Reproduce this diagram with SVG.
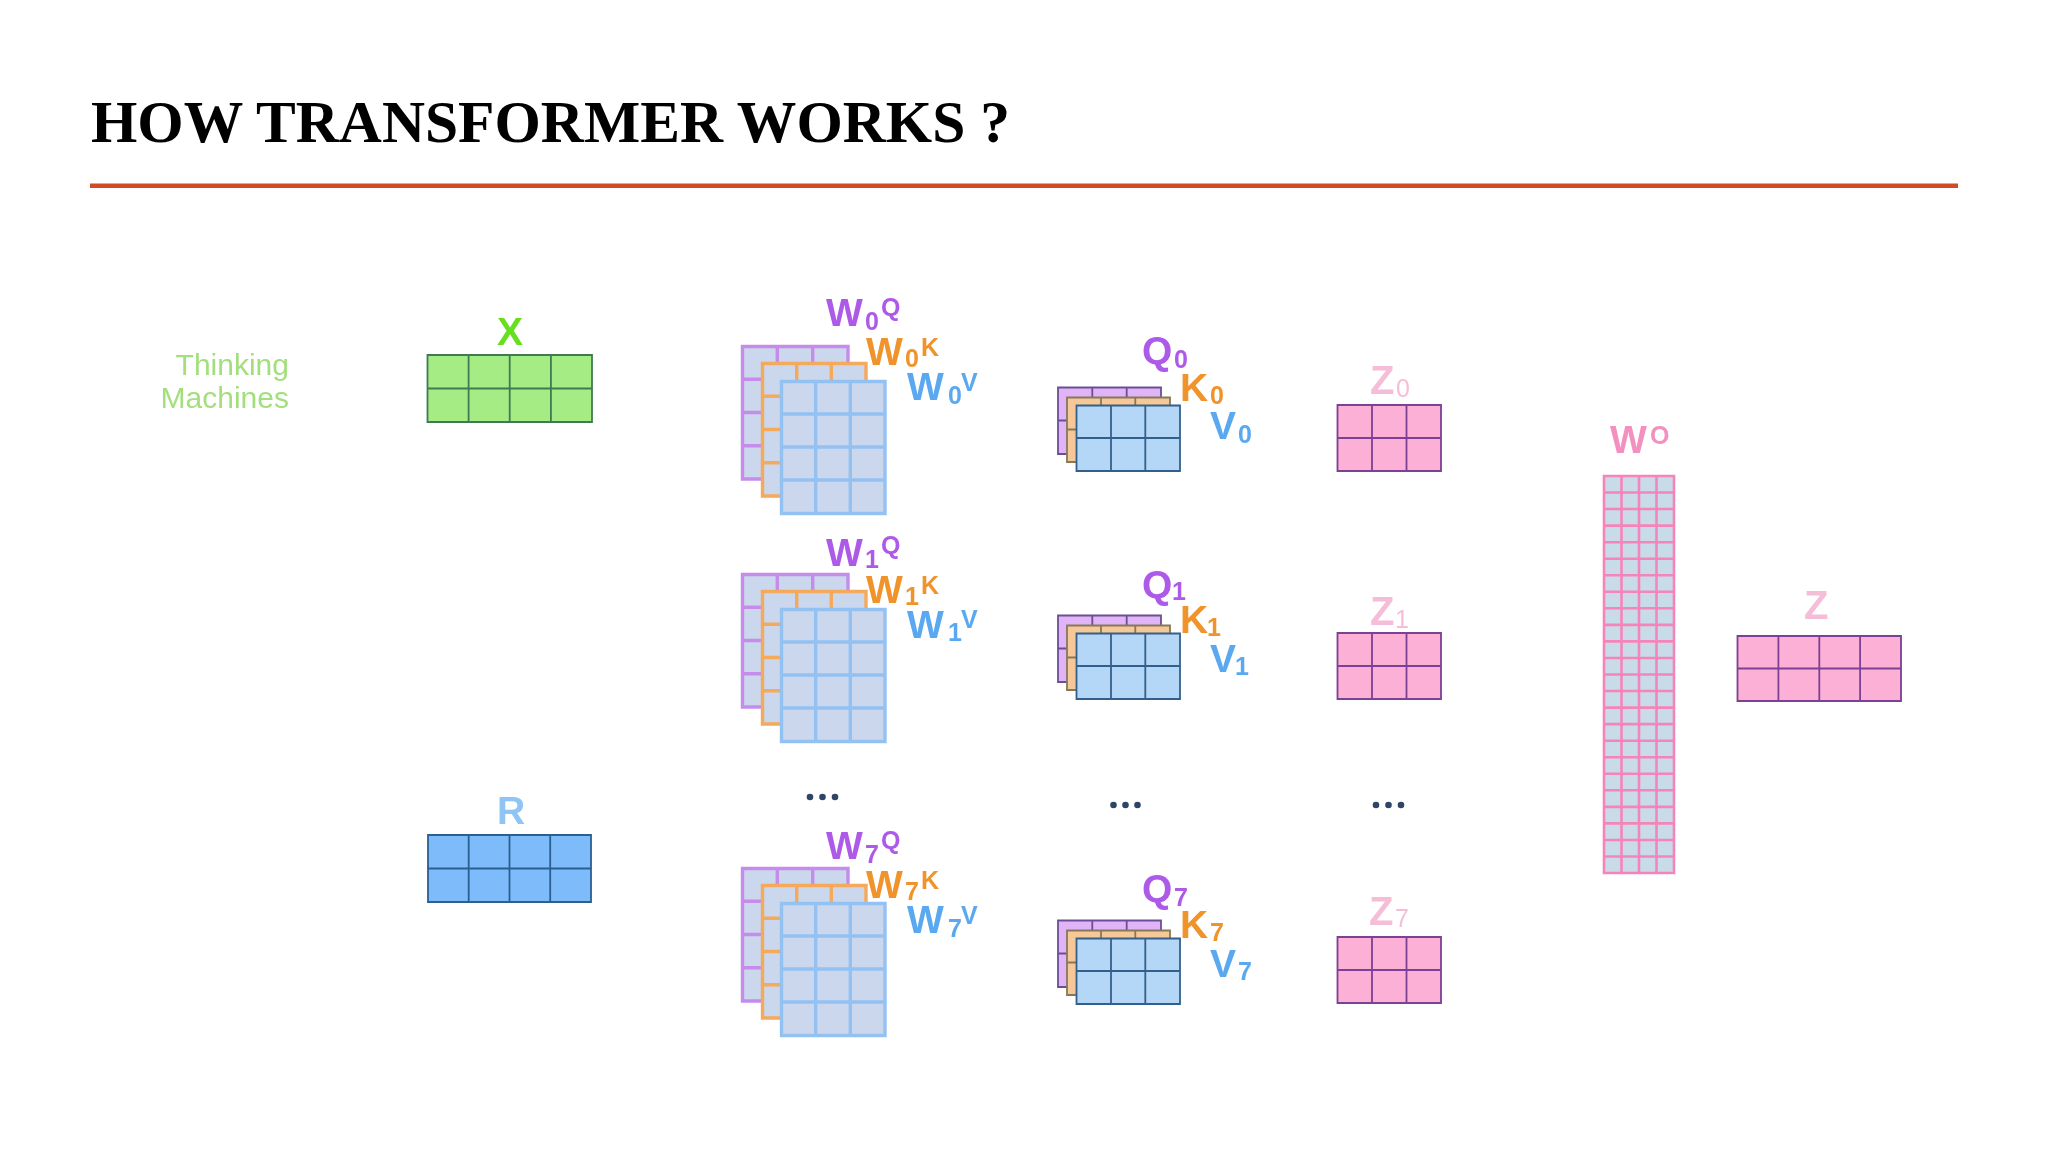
<svg xmlns="http://www.w3.org/2000/svg" xmlns:xlink="http://www.w3.org/1999/xlink" width="2048" height="1152" viewBox="0 0 2048 1152">
<style>
.lab{font-family:"Liberation Sans",Arial,sans-serif;font-weight:700}
.sm{font-size:25px}
.b{font-size:39px}
.pu{fill:#ae5ae8}.or{fill:#f0932b}.bl{fill:#5aa9f0}
.zl{fill:#f6bdd8;font-size:40px}
.wm{stroke-width:3.400;fill:#cbd7ec}
.thin{stroke-width:1.800}
.blur{filter:url(#soft)}
</style>
<defs>
<filter id="soft" x="-5%" y="-5%" width="110%" height="110%"><feGaussianBlur stdDeviation="0.6"/></filter>
<g id="wstack">
<path class="wm" stroke="#c58cec" d="M742.500 346.500H848V479H742.500ZM777.300 346.500V479M812.700 346.500V479M742.500 379.200H848M742.500 412.500H848M742.500 445.800H848"/>
<path class="wm" stroke="#f5a95a" d="M762.500 363.500H866V496H762.500ZM796.700 363.500V496M831.300 363.500V496M762.500 396.200H866M762.500 429.500H866M762.500 462.800H866"/>
<path class="wm" stroke="#93c2f2" d="M781.500 381.500H885V513.500H781.500ZM815.700 381.500V513.500M850.300 381.500V513.500M781.500 414H885M781.500 447H885M781.500 480H885"/>
</g>
<g id="mstack">
<path class="thin" fill="#e0b4f6" stroke="#6a4f96" d="M1058 387.500H1161V454H1058ZM1092.300 387.500V454M1126.700 387.500V454M1058 420.500H1161"/>
<path class="thin" fill="#f7c897" stroke="#85795a" d="M1067 397.500H1170V462H1067ZM1101 397.500V462M1135.300 397.500V462M1067 429.500H1170"/>
<path class="thin" fill="#b4d7f8" stroke="#33618a" d="M1076.500 405.500H1180V471H1076.500ZM1111 405.500V471M1145.300 405.500V471M1076.500 438H1180"/>
</g>
<path id="zgrid" class="thin" fill="#fdb0d6" stroke="#7c3f95" d="M1337.500 405H1441V471H1337.500ZM1372 405V471M1406.500 405V471M1337.500 438H1441"/>
</defs>
<rect width="2048" height="1152" fill="#fff"/>
<g id="header">
<text x="91" y="142" font-family="'Liberation Serif','Times New Roman',serif" font-weight="700" font-size="60" fill="#000" textLength="919" lengthAdjust="spacingAndGlyphs">HOW TRANSFORMER WORKS ?</text>
<rect x="90" y="183.500" width="1868" height="4.500" fill="#d14b24"/>
</g>
<g class="blur">
<g id="input-sentence">
<text font-family="'Liberation Sans',Arial,sans-serif" font-size="30" fill="#a3df7d" text-anchor="end"><tspan x="289" y="375">Thinking</tspan><tspan x="289" y="408">Machines</tspan></text>
</g>
<g id="matrix-x">
<text class="lab b" x="510" y="345" text-anchor="middle" fill="#66e01f">X</text>
<path class="thin" fill="#a5ec85" stroke="#3f7a52" d="M427.500 355H592V422H427.500ZM468.600 355V422M509.700 355V422M550.900 355V422M427.500 388.500H592"/>
</g>
<g id="matrix-r">
<text class="lab b" x="511" y="824" text-anchor="middle" fill="#90c4f5">R</text>
<path class="thin" fill="#7dbbfa" stroke="#2a5f92" d="M428 835H591V902H428ZM468.700 835V902M509.500 835V902M550.200 835V902M428 868.500H591"/>
</g>

<g id="weights-0">
<use href="#wstack"/>
<text class="lab pu"><tspan class="b" x="826" y="326">W</tspan><tspan class="sm" x="865" y="330">0</tspan><tspan class="sm" x="881" y="316">Q</tspan></text>
<text class="lab or"><tspan class="b" x="866" y="365">W</tspan><tspan class="sm" x="905" y="367">0</tspan><tspan class="sm" x="921" y="356">K</tspan></text>
<text class="lab bl"><tspan class="b" x="907" y="400">W</tspan><tspan class="sm" x="948" y="404">0</tspan><tspan class="sm" x="961" y="391">V</tspan></text>
</g>
<g id="weights-1">
<use href="#wstack" y="228"/>
<text class="lab pu"><tspan class="b" x="826" y="566">W</tspan><tspan class="sm" x="865" y="568">1</tspan><tspan class="sm" x="881" y="554">Q</tspan></text>
<text class="lab or"><tspan class="b" x="866" y="603">W</tspan><tspan class="sm" x="905" y="605">1</tspan><tspan class="sm" x="921" y="594">K</tspan></text>
<text class="lab bl"><tspan class="b" x="907" y="638">W</tspan><tspan class="sm" x="948" y="641">1</tspan><tspan class="sm" x="961" y="628">V</tspan></text>
</g>
<g id="weights-7">
<use href="#wstack" y="522"/>
<text class="lab pu"><tspan class="b" x="826" y="859">W</tspan><tspan class="sm" x="865" y="863">7</tspan><tspan class="sm" x="881" y="849">Q</tspan></text>
<text class="lab or"><tspan class="b" x="866" y="898">W</tspan><tspan class="sm" x="905" y="900">7</tspan><tspan class="sm" x="921" y="889">K</tspan></text>
<text class="lab bl"><tspan class="b" x="907" y="933">W</tspan><tspan class="sm" x="948" y="937">7</tspan><tspan class="sm" x="961" y="924">V</tspan></text>
</g>

<g id="qkv-0">
<use href="#mstack"/>
<text class="lab pu"><tspan class="b" x="1142" y="364">Q</tspan><tspan class="sm" x="1174" y="368">0</tspan></text>
<text class="lab or"><tspan class="b" x="1180" y="401">K</tspan><tspan class="sm" x="1210" y="404">0</tspan></text>
<text class="lab bl"><tspan class="b" x="1210" y="439">V</tspan><tspan class="sm" x="1238" y="443">0</tspan></text>
</g>
<g id="qkv-1">
<use href="#mstack" y="228"/>
<text class="lab pu"><tspan class="b" x="1142" y="598">Q</tspan><tspan class="sm" x="1172" y="600">1</tspan></text>
<text class="lab or"><tspan class="b" x="1180" y="633">K</tspan><tspan class="sm" x="1207" y="636">1</tspan></text>
<text class="lab bl"><tspan class="b" x="1210" y="672">V</tspan><tspan class="sm" x="1235" y="675">1</tspan></text>
</g>
<g id="qkv-7">
<use href="#mstack" y="533"/>
<text class="lab pu"><tspan class="b" x="1142" y="902">Q</tspan><tspan class="sm" x="1174" y="906">7</tspan></text>
<text class="lab or"><tspan class="b" x="1180" y="938">K</tspan><tspan class="sm" x="1210" y="941">7</tspan></text>
<text class="lab bl"><tspan class="b" x="1210" y="977">V</tspan><tspan class="sm" x="1238" y="980">7</tspan></text>
</g>

<g id="z-0">
<use href="#zgrid"/>
<text class="lab zl"><tspan x="1370" y="394">Z</tspan><tspan class="sm" x="1396" y="397" font-weight="400">0</tspan></text>
</g>
<g id="z-1">
<use href="#zgrid" y="228"/>
<text class="lab zl"><tspan x="1370" y="625">Z</tspan><tspan class="sm" x="1395" y="628" font-weight="400">1</tspan></text>
</g>
<g id="z-7">
<use href="#zgrid" y="532"/>
<text class="lab zl"><tspan x="1369" y="925">Z</tspan><tspan class="sm" x="1395" y="927" font-weight="400">7</tspan></text>
</g>

<g id="ellipses" fill="#2f4468">
<circle cx="810" cy="797" r="3.300"/><circle cx="822.500" cy="797" r="3.300"/><circle cx="835" cy="797" r="3.300"/>
<circle cx="1113.500" cy="805" r="3.300"/><circle cx="1125.500" cy="805" r="3.300"/><circle cx="1137.500" cy="805" r="3.300"/>
<circle cx="1376" cy="805" r="3.300"/><circle cx="1388.500" cy="805" r="3.300"/><circle cx="1401" cy="805" r="3.300"/>
</g>

<g id="weights-o">
<text class="lab" fill="#f390c0"><tspan class="b" x="1610" y="453">W</tspan><tspan class="sm" x="1650" y="444" font-size="26">O</tspan></text>
<path fill="#c9dbe8" stroke="#f585b9" stroke-width="2.600" d="M1604 476H1674V873H1604ZM1621.500 476V873M1639 476V873M1656.500 476V873M1604 492.500H1674M1604 509H1674M1604 525.600H1674M1604 542.200H1674M1604 558.700H1674M1604 575.200H1674M1604 591.800H1674M1604 608.300H1674M1604 624.900H1674M1604 641.400H1674M1604 658H1674M1604 674.500H1674M1604 691H1674M1604 707.600H1674M1604 724.100H1674M1604 740.700H1674M1604 757.200H1674M1604 773.800H1674M1604 790.300H1674M1604 806.900H1674M1604 823.400H1674M1604 840H1674M1604 856.500H1674"/>
</g>
<g id="z-final">
<text class="lab zl" x="1804" y="619">Z</text>
<path class="thin" fill="#fdb0d6" stroke="#7c3f95" d="M1737.500 636H1901V701H1737.500ZM1778.400 636V701M1819.300 636V701M1860.100 636V701M1737.500 668.500H1901"/>
</g>
</g>
<g id="connectors"/>
</svg>
